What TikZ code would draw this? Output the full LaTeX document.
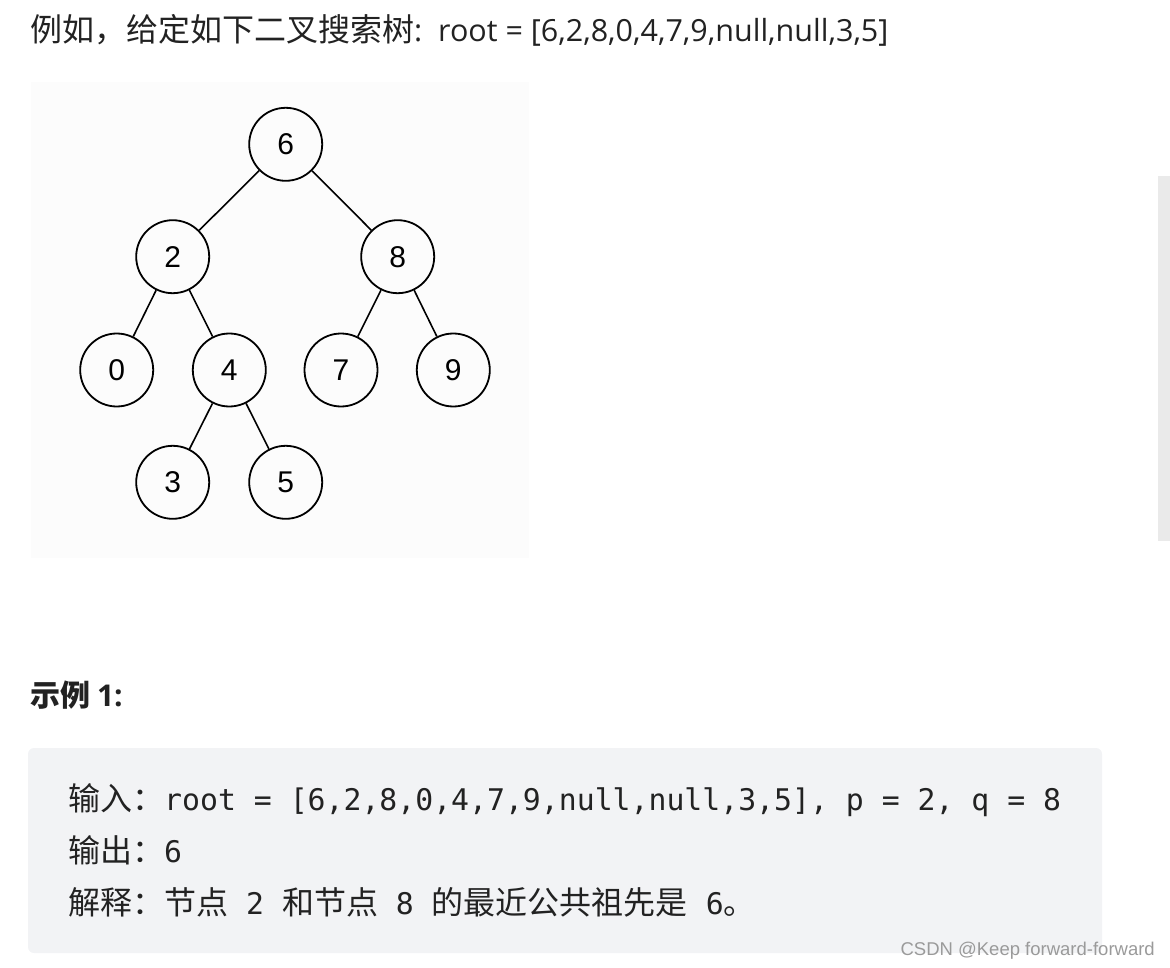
\documentclass[tikz,border=0pt]{standalone}
\usepackage{fontspec}
\usepackage{xcolor}
\setmainfont{Liberation Sans}
\newfontfamily\cjkfont{Noto Sans CJK SC}
\newfontfamily\latinfont{Open Sans}
\newfontfamily\codefont{DejaVu Sans Mono}
\definecolor{codebg}{HTML}{F2F3F5}
\definecolor{txt}{HTML}{222222}
\definecolor{bar}{HTML}{EAEAEA}
\definecolor{mark}{HTML}{9A9A9A}
\def\cj#1{{\cjkfont\fontsize{32}{40}\selectfont #1}}
\def\cd#1{{\codefont\fontsize{29.8}{40}\selectfont #1}}
\tikzset{
  bst/.style={circle, draw, line width=1.8pt, minimum size=73pt, inner sep=0pt,
    font=\fontsize{30}{30}\selectfont},
  branch/.style={line width=1.6pt},
  line/.style={anchor=base west, inner sep=0pt, text=txt}
}

\begin{document}
\begin{tikzpicture}[x=1pt, y=-1pt]
  \useasboundingbox (0,0) rectangle (1170,968);
  \node[line] (title) at (30,42)
    {\cjkfont\fontsize{32}{38}\selectfont 例如，给定如下二叉搜索树\latinfont\fontsize{30.5}{38}\selectfont :\ \ root = [6,2,8,0,4,7,9,null,null,3,5]};
  % tree picture
  \fill[gray!2] (31,82) rectangle (529,558);
  \node[bst] (n6) at (285.7,144.3) {6};
  \node[bst] (n2) at (172.7,256.7) {2};
  \node[bst] (n8) at (397.7,256.7) {8};
  \node[bst] (n0) at (116.7,370) {0};
  \node[bst] (n4) at (229.3,370) {4};
  \node[bst] (n7) at (341,370) {7};
  \node[bst] (n9) at (453.3,370) {9};
  \node[bst] (n3) at (172.7,482.3) {3};
  \node[bst] (n5) at (285.7,482.3) {5};
  \foreach \a/\b in {n6/n2, n6/n8, n2/n0, n2/n4, n8/n7, n8/n9, n4/n3, n4/n5}
    \draw[branch] (\a) -- (\b);
  \fill[bar] (1158,176) rectangle (1170,541); % scrollbar
  % example
  \node[line, font=\bfseries\fontsize{30}{36}\selectfont] (head) at (30,706) {\cjkfont 示例 \latinfont 1:};
  \fill[codebg, rounded corners=6pt] (28,748) rectangle (1102,953);
  \node[line] (in) at (68,810) {\cj{输入：}\cd{root = [6,2,8,0,4,7,9,null,null,3,5], p = 2, q = 8}};
  \node[line] (out) at (68,862) {\cj{输出：}\cd{6}};
  \node[line] (why) at (68,914) {\cj{解释：节点}\cd{\ 2\ }\cj{和节点}\cd{\ 8\ }\cj{的最近公共祖先是}\cd{\ 6}\cj{。}};
  \node[anchor=base east, inner sep=0pt, text=mark, font=\fontsize{18.5}{20}\selectfont] (wm) at (1155,955) {CSDN @Keep forward-forward};
\end{tikzpicture}
\end{document}
